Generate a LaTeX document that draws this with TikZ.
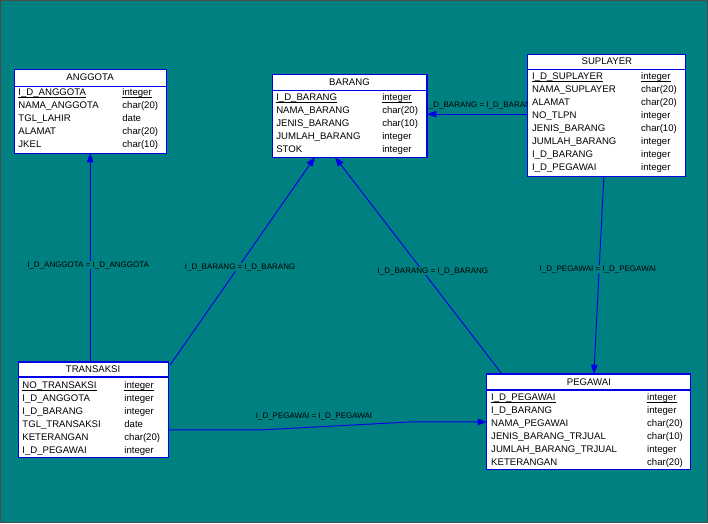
\documentclass[tikz,border=0pt]{standalone}
\usepackage{fontspec}
\setmainfont{Liberation Sans}
\usetikzlibrary{arrows.meta}
\definecolor{bg}{RGB}{0,128,128}
\definecolor{ln}{RGB}{0,0,230}
\tikzset{
 tbl/.style={draw=ln,line width=0.8pt,fill=white,inner sep=0,anchor=north west},
 fld/.style={anchor=base west,inner sep=0,font=\fontsize{7.2}{8}\selectfont},
 ttl/.style={inner sep=0,font=\fontsize{7.2}{8}\selectfont},
 rel/.style={draw=ln,line width=0.7pt,-{Triangle[length=7pt,width=5pt]}},
 lbl/.style={fill=bg,inner sep=0.5pt,font=\fontsize{6}{6}\selectfont,text=black}
}
% \erent{name}{x1}{y1}{x2}{ytitle}{y2}{typecol}{firstrow}{rows}
\newcommand\erent[9]{%
 \path[tbl] (#2,#3) rectangle (#4,#6);
 \draw[ln,line width=0.8pt] (#2,#5) -- (#4,#5);
 \node[ttl] (#1) at ({(#2+#4)/2},{(#3+#5)/2}) {#1};
 \foreach \n/\t [count=\i from 0] in {#9}{
   \node[fld] (#1-n\i) at (#2+4,#8+3.5+13*\i) {\n};
   \node[fld] (#1-t\i) at (#7,#8+3.5+13*\i) {\t};
   \ifnum\i=0
   \draw[line width=0.5pt] ([yshift=-1.6pt]#1-n\i.base west) -- ([yshift=-1.6pt]#1-n\i.base east);
   \draw[line width=0.5pt] ([yshift=-1.6pt]#1-t\i.base west) -- ([yshift=-1.6pt]#1-t\i.base east);
   \fi}
}
\begin{document}
\begin{tikzpicture}[x=0.75pt,y=-0.75pt]
\fill[bg] (0,0) rectangle (708,523);
\draw[black!70,line width=1pt] (0.5,0.5) rectangle (707.5,522.5);
% connectors
\coordinate (c1a) at (90,362); \coordinate (c1b) at (90,153);
\draw[rel] (c1a) -- (c1b);
\node[lbl] (l1) at (88,265) {I\_D\_ANGGOTA = I\_D\_ANGGOTA};
\coordinate (c2a) at (170,365); \coordinate (c2b) at (315,157);
\draw[rel] (c2a) -- (c2b);
\node[lbl] (l2) at (240,267) {I\_D\_BARANG = I\_D\_BARANG};
\coordinate (c3a) at (502,374); \coordinate (c3b) at (335,157);
\draw[rel] (c3a) -- (c3b);
\node[lbl] (l3) at (433,271) {I\_D\_BARANG = I\_D\_BARANG};
\coordinate (c4a) at (528,114); \coordinate (c4b) at (427,114);
\draw[rel] (c4a) -- (c4b);
\node[lbl] (l4) at (482,105) {I\_D\_BARANG = I\_D\_BARANG};
\coordinate (c5a) at (604,176); \coordinate (c5b) at (594,374);
\draw[rel] (c5a) -- (c5b);
\node[lbl] (l5) at (598,269) {I\_D\_PEGAWAI = I\_D\_PEGAWAI};
\coordinate (c6a) at (168,430); \coordinate (c6m) at (410,422); \coordinate (c6b) at (487,422);
\draw[rel] (c6a) -- (260,430) -- (c6m) -- (c6b);
\node[lbl] (l6) at (314,417) {I\_D\_PEGAWAI = I\_D\_PEGAWAI};
% tables
\erent{ANGGOTA}{14}{69}{166}{86}{153}{122}{92}{I\_D\_ANGGOTA/integer,NAMA\_ANGGOTA/char(20),TGL\_LAHIR/date,ALAMAT/char(20),JKEL/char(10)}
\erent{BARANG}{272}{74}{427}{90}{157}{382}{97}{I\_D\_BARANG/integer,NAMA\_BARANG/char(20),JENIS\_BARANG/char(10),JUMLAH\_BARANG/integer,STOK/integer}
\erent{SUPLAYER}{528}{54}{686}{69}{176}{641}{76}{I\_D\_SUPLAYER/integer,NAMA\_SUPLAYER/char(20),ALAMAT/char(20),NO\_TLPN/integer,JENIS\_BARANG/char(10),JUMLAH\_BARANG/integer,I\_D\_BARANG/integer,I\_D\_PEGAWAI/integer}
\erent{TRANSAKSI}{18}{362}{168}{377}{458}{124}{385}{NO\_TRANSAKSI/integer,I\_D\_ANGGOTA/integer,I\_D\_BARANG/integer,TGL\_TRANSAKSI/date,KETERANGAN/char(20),I\_D\_PEGAWAI/integer}
\erent{PEGAWAI}{487}{374}{691}{390}{470}{647}{397}{I\_D\_PEGAWAI/integer,I\_D\_BARANG/integer,NAMA\_PEGAWAI/char(20),JENIS\_BARANG\_TRJUAL/char(10),JUMLAH\_BARANG\_TRJUAL/integer,KETERANGAN/char(20)}
\end{tikzpicture}
\end{document}
